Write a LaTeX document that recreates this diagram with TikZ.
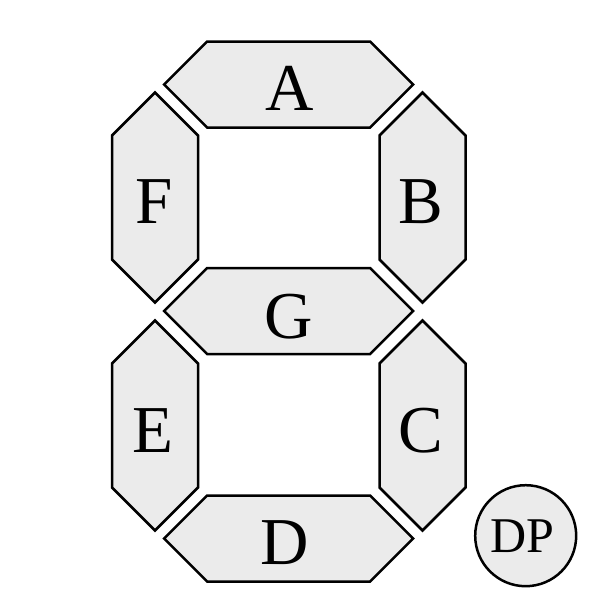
\documentclass[tikz,border=0pt]{standalone}
\usepackage{fontspec}
\setmainfont{Liberation Serif}
\definecolor{segfill}{HTML}{EBEBEB}
\tikzset{
  seg/.style={draw=black, fill=segfill, line width=2.5pt, line join=miter},
  hsegment/.pic={\path[seg] (-124.5,0) -- (-81.5,-43) -- (81.5,-43) -- (124.5,0) -- (81.5,43) -- (-81.5,43) -- cycle;},
  vsegment/.pic={\path[seg] (0,-105) -- (43,-62) -- (43,62) -- (0,105) -- (-43,62) -- (-43,-62) -- cycle;},
  lbl/.style={inner sep=0pt, font=\fontsize{67}{67}\selectfont},
}
\begin{document}
\begin{tikzpicture}[x=1pt,y=-1pt]
\useasboundingbox (0,0) rectangle (600,600);
\pic at (288.7,84.5) {hsegment};
\pic at (288.7,311) {hsegment};
\pic at (288.7,538.5) {hsegment};
\pic at (155,197.5) {vsegment};
\pic at (422.5,197.5) {vsegment};
\pic at (155,425.5) {vsegment};
\pic at (422.5,425.5) {vsegment};
\node[lbl] (A) at (289.5,88.5) {A};
\node[lbl] (B) at (421,201.5) {B};
\node[lbl] (C) at (421,431) {C};
\node[lbl] (D) at (285,543) {D};
\node[lbl] (E) at (153,431) {E};
\node[lbl] (F) at (154,201.5) {F};
\node[lbl] (G) at (288.2,316.3) {G};
\node[circle, draw=black, fill=segfill, line width=2.5pt, minimum size=101pt, inner sep=0pt] (DP) at (525.7,535.7) {};
\node[inner sep=0pt, font=\fontsize{50}{50}\selectfont] (DPtext) at (522.5,536.3) {DP};
\end{tikzpicture}
\end{document}
